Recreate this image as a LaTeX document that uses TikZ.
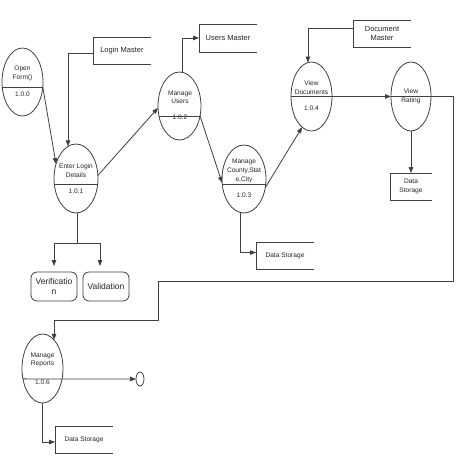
\documentclass[tikz,border=0pt]{standalone}
\usepackage{fontspec}
\setmainfont{Liberation Sans}
\usetikzlibrary{arrows.meta,calc,shapes.geometric}
\newcommand\dfdstore[1]{\draw[line] (#1.north east) -- (#1.north west) -- (#1.south west) -- (#1.south east);}
\begin{document}
\begin{tikzpicture}[x=1pt,y=-1pt,
  line/.style={draw=black!75, line width=0.8pt},
  arr/.style={line, -{Triangle[length=6pt,width=4.5pt]}},
  proc/.style={ellipse, line, inner sep=0pt, outer sep=0pt},
  lbl/.style={inner sep=0pt, align=center, font=\fontsize{6.6}{8.7}\selectfont, text=black!85},
  store/.style={inner sep=0pt, outer sep=0pt, align=center, font=\fontsize{7.5}{9.4}\selectfont, text=black!85},
  sstore/.style={store, font=\fontsize{6.6}{8.7}\selectfont},
  rbox/.style={line, rounded corners=6pt, inner sep=0pt, outer sep=0pt, align=center,
    minimum width=46pt, minimum height=29pt, font=\fontsize{8.5}{10}\selectfont, text=black!85}
]
\useasboundingbox[fill=white] (0,0) rectangle (474,463);

% processes
\node[proc, minimum width=41pt, minimum height=68pt] (of) at (22.5,82) {};
\node[proc, minimum width=44pt, minimum height=69pt] (el) at (76,178.5) {};
\node[proc, minimum width=43pt, minimum height=68pt] (mu) at (179.5,106) {};
\node[proc, minimum width=44pt, minimum height=68pt] (mc) at (244,179) {};
\node[proc, minimum width=41pt, minimum height=69pt] (vd) at (311.5,96.5) {};
\node[proc, minimum width=40pt, minimum height=69pt] (vr) at (411,96.5) {};
\node[proc, minimum width=41pt, minimum height=69pt] (mr) at (42.5,368.5) {};
\node[proc, minimum width=8pt, minimum height=14pt] (sc) at (140,379) {};

% process texts
\node[lbl] (oft) at (22.5,73.5) {Open\\Form()};
\node[lbl] (ofn) at (22.5,94) {1.0.0};
\node[lbl] (elt) at (76,170.5) {Enter Login\\Details};
\node[lbl] (eln) at (76,191) {1.0.1};
\node[lbl] (mut) at (180,97.3) {Manage\\Users};
\node[lbl] (mun) at (180,117.7) {1.0.2};
\node[lbl] (mct) at (244,171) {Manage\\County,Stat\\e,City};
\node[lbl] (mcn) at (244,195) {1.0.3};
\node[lbl] (vdt) at (311.5,87.5) {View\\Documents};
\node[lbl] (vdn) at (311.5,108) {1.0.4};
\node[lbl] (vrt) at (411,96) {View\\Rating};
\node[lbl] (mrt) at (42.5,360) {Manage\\Reports};
\node[lbl] (mrn) at (42.5,382) {1.0.6};

% dividers
\draw[line] ($(of.center)+(-20.3,5)$) -- ($(of.center)+(20.3,5)$);
\draw[line] ($(el.center)+(-21.7,5.5)$) -- ($(el.center)+(21.7,5.5)$);
\draw[line] ($(mu.center)+(-20.5,10)$) -- ($(mu.center)+(20.5,10)$);
\draw[line] ($(mc.center)+(-21.7,5)$) -- ($(mc.center)+(21.7,5)$);

% data stores
\node[store, minimum width=58pt, minimum height=27pt] (lm) at (122,50.5) {Login Master};
\node[store, minimum width=58pt, minimum height=28pt] (um) at (228,38) {Users Master};
\node[store, minimum width=58pt, minimum height=27pt] (dm) at (382,33.5) {Document\\Master};
\node[sstore, minimum width=58pt, minimum height=27pt] (ds1) at (285,255.5) {Data Storage};
\node[sstore, minimum width=42pt, minimum height=27pt] (ds2) at (411,186.5) {Data\\Storage};
\node[sstore, minimum width=58pt, minimum height=27pt] (ds3) at (84,439.5) {Data Storage};
\dfdstore{lm}
\dfdstore{um}
\dfdstore{dm}
\dfdstore{ds1}
\dfdstore{ds2}
\dfdstore{ds3}

% rounded boxes
\node[rbox] (vf) at (54,286.5) {Verificatio\\n};
\node[rbox] (va) at (106,286.5) {Validation};

% connectors
\draw[arr] (of.-14) -- (el.144);
\draw[arr] ([yshift=-3pt]lm.west) -| (el.104);
\draw[arr] (el.8) -- (mu.185);
\draw[arr] (mu.85) |- (um.west);
\draw[arr] (mu.-26) -- (mc.190);
\draw[arr] (mc.-22) -- (vd.253);
\draw[arr] ([yshift=5.5pt]dm.west) -| (vd.96);
\draw[arr] (vd.west) -- (vr.west);
\draw[arr] (vr.south) -- (ds2.north);
\draw[arr] (mc.264) |- ([yshift=3pt]ds1.west);

\coordinate (bj) at (77.5,243);
\draw[line] (el.south -| bj) -- (bj);
\draw[arr] (bj) -| ([yshift=6pt]vf.north);
\draw[arr] (bj) -| ([xshift=-6pt,yshift=6pt]va.north);

\coordinate (k1) at (453,96.5);
\coordinate (k2) at (453,281);
\coordinate (k3) at (158,281);
\coordinate (k4) at (158,320);
\draw[arr] (vr.west) -- (k1) -- (k2) -- (k3) -- (k4) -| (mr.68);

\draw[arr] (mr.208) -- (sc.west);
\draw[arr] (mr.south) |- ([yshift=-2.5pt]ds3.west);
\end{tikzpicture}
\end{document}
